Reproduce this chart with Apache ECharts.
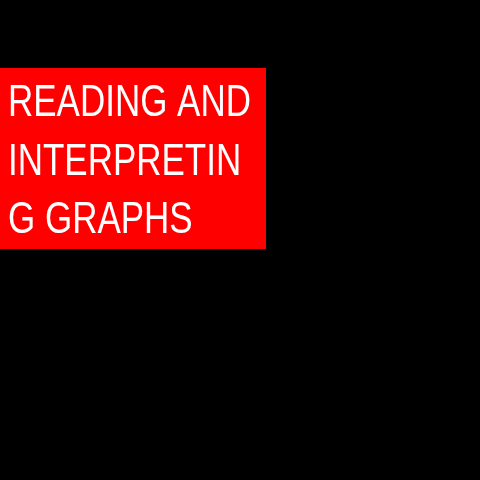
<!DOCTYPE html>
<html>
<head>
<meta charset="utf-8">
<script src="https://cdn.jsdelivr.net/npm/echarts@6/dist/echarts.min.js"></script>
<style>
  html, body { margin: 0; padding: 0; background: #000; }
  #content { width: 480px; height: 480px; }
</style>
</head>
<body>
<div id="content"></div>
<script>
// slide title lines (text wraps as in the picture)
var titleLines = ['READING AND', 'INTERPRETIN', 'G GRAPHS'];

var myChart = echarts.init(document.getElementById('content'));

var option = {
    backgroundColor: '#000000',
    animation: false,
    graphic: [
        { // red title box
            type: 'rect',
            shape: { x: 0, y: 68, width: 266, height: 181 },
            style: { fill: '#ff0000' }
        },
        { // no narrow font installed, so squeeze the normal one
            type: 'text',
            x: 8,
            y: 75,
            scaleX: 0.795,
            style: {
                text: titleLines.join('\n'),
                fill: '#ffffff',
                font: '44px "Liberation Sans", Arial, sans-serif',
                lineHeight: 58.5,
                verticalAlign: 'top'
            }
        }
    ]
};
myChart.setOption(option);
</script>
</body>
</html>
